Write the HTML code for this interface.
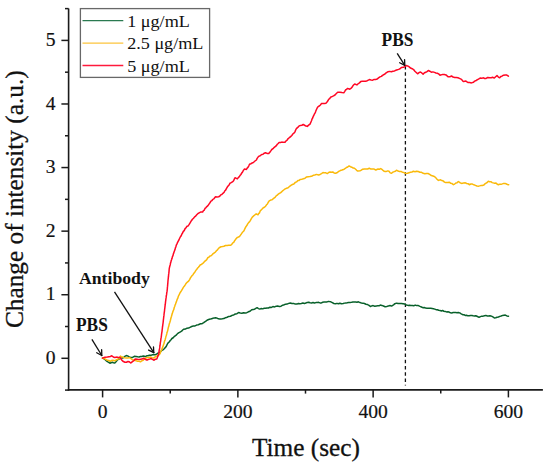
<!DOCTYPE html>
<html><head><meta charset="utf-8"><style>
html,body{margin:0;padding:0;background:#fff;}
body{width:550px;height:467px;overflow:hidden;}
svg{display:block;}
text{font-family:"Liberation Serif",serif;fill:#111;}
.tl{font-size:19.6px;stroke:#111;stroke-width:0.2px;}
.at{font-size:25.3px;stroke:#111;stroke-width:0.3px;}
.lg{font-size:17.8px;}
.an{font-size:17.4px;font-weight:bold;}
</style></head><body>
<svg width="550" height="467" viewBox="0 0 550 467">
<rect width="550" height="467" fill="#fff"/>
<line x1="68.6" y1="8.6" x2="68.6" y2="390.65" stroke="#1a1a1a" stroke-width="1.6"/>
<line x1="67.8" y1="389.9" x2="542.9" y2="389.9" stroke="#1a1a1a" stroke-width="1.6"/>
<line x1="61.4" y1="358.30" x2="68.6" y2="358.30" stroke="#1a1a1a" stroke-width="1.5"/>
<text x="55.6" y="363.90" text-anchor="end" class="tl">0</text>
<line x1="61.4" y1="294.72" x2="68.6" y2="294.72" stroke="#1a1a1a" stroke-width="1.5"/>
<text x="55.6" y="300.32" text-anchor="end" class="tl">1</text>
<line x1="61.4" y1="231.14" x2="68.6" y2="231.14" stroke="#1a1a1a" stroke-width="1.5"/>
<text x="55.6" y="236.74" text-anchor="end" class="tl">2</text>
<line x1="61.4" y1="167.56" x2="68.6" y2="167.56" stroke="#1a1a1a" stroke-width="1.5"/>
<text x="55.6" y="173.16" text-anchor="end" class="tl">3</text>
<line x1="61.4" y1="103.98" x2="68.6" y2="103.98" stroke="#1a1a1a" stroke-width="1.5"/>
<text x="55.6" y="109.58" text-anchor="end" class="tl">4</text>
<line x1="61.4" y1="40.40" x2="68.6" y2="40.40" stroke="#1a1a1a" stroke-width="1.5"/>
<text x="55.6" y="46.00" text-anchor="end" class="tl">5</text>
<line x1="65" y1="390.09" x2="68.6" y2="390.09" stroke="#1a1a1a" stroke-width="1.5"/>
<line x1="65" y1="326.51" x2="68.6" y2="326.51" stroke="#1a1a1a" stroke-width="1.5"/>
<line x1="65" y1="262.93" x2="68.6" y2="262.93" stroke="#1a1a1a" stroke-width="1.5"/>
<line x1="65" y1="199.35" x2="68.6" y2="199.35" stroke="#1a1a1a" stroke-width="1.5"/>
<line x1="65" y1="135.77" x2="68.6" y2="135.77" stroke="#1a1a1a" stroke-width="1.5"/>
<line x1="65" y1="72.19" x2="68.6" y2="72.19" stroke="#1a1a1a" stroke-width="1.5"/>
<line x1="65" y1="8.61" x2="68.6" y2="8.61" stroke="#1a1a1a" stroke-width="1.5"/>
<line x1="102.60" y1="389.9" x2="102.60" y2="397.4" stroke="#1a1a1a" stroke-width="1.5"/>
<text x="102.60" y="418.2" text-anchor="middle" class="tl">0</text>
<line x1="237.87" y1="389.9" x2="237.87" y2="397.4" stroke="#1a1a1a" stroke-width="1.5"/>
<text x="237.87" y="418.2" text-anchor="middle" class="tl">200</text>
<line x1="373.13" y1="389.9" x2="373.13" y2="397.4" stroke="#1a1a1a" stroke-width="1.5"/>
<text x="373.13" y="418.2" text-anchor="middle" class="tl">400</text>
<line x1="508.40" y1="389.9" x2="508.40" y2="397.4" stroke="#1a1a1a" stroke-width="1.5"/>
<text x="508.40" y="418.2" text-anchor="middle" class="tl">600</text>
<line x1="170.23" y1="389.9" x2="170.23" y2="393.6" stroke="#1a1a1a" stroke-width="1.5"/>
<line x1="305.50" y1="389.9" x2="305.50" y2="393.6" stroke="#1a1a1a" stroke-width="1.5"/>
<line x1="440.76" y1="389.9" x2="440.76" y2="393.6" stroke="#1a1a1a" stroke-width="1.5"/>
<text x="305.9" y="455.8" text-anchor="middle" class="at">Time (sec)</text>
<text transform="translate(23.3,199.2) rotate(-90)" x="0" y="0" text-anchor="middle" class="at">Change of intensity (a.u.)</text>
<line x1="405.4" y1="66" x2="405.4" y2="385.5" stroke="#111" stroke-width="1.3" stroke-dasharray="3.4 2.85"/>
<polyline points="102.50,358.10 103.70,358.56 104.90,359.50 106.15,360.64 107.40,361.70 108.65,362.33 109.90,363.20 112.30,362.20 113.55,362.69 114.80,363.00 116.00,361.76 117.20,360.30 118.45,359.16 119.70,358.80 121.05,357.96 122.40,358.00 123.73,357.50 125.07,356.18 126.40,355.60 127.60,355.86 128.80,356.60 130.80,357.60 132.55,357.40 134.30,356.30 136.00,356.52 137.70,356.80 139.07,356.93 140.45,356.43 141.82,356.40 143.20,356.10 145.40,356.60 146.67,355.85 147.93,355.85 149.20,355.30 150.85,355.33 152.50,354.70 153.85,354.72 155.20,354.70 156.55,354.12 157.90,353.10 159.20,352.60 160.50,351.80 161.75,350.41 163.00,349.80 164.00,349.03 165.00,347.88 166.00,346.80 166.83,345.19 167.67,343.51 168.50,342.50 169.35,341.83 170.20,340.48 171.05,339.70 171.90,338.50 173.20,337.74 174.50,336.30 175.50,335.59 176.50,334.88 177.50,333.60 179.00,332.61 180.50,331.80 181.60,331.20 182.70,330.02 183.80,329.20 185.40,329.09 187.00,328.20 188.50,328.09 190.00,327.30 191.67,326.47 193.33,326.04 195.00,325.90 196.65,325.05 198.30,324.70 200.50,323.80 202.10,323.67 203.70,322.70 204.80,321.81 205.90,321.15 207.00,320.20 208.65,319.47 210.30,319.10 211.65,318.71 213.00,318.30 214.35,317.90 215.70,317.70 217.05,318.12 218.40,318.80 219.70,318.88 221.00,318.88 222.30,318.80 223.90,318.61 225.50,317.70 227.15,317.21 228.80,316.40 230.45,316.24 232.10,315.30 233.70,314.97 235.30,314.00 236.95,313.69 238.60,312.50 240.25,313.05 241.90,313.30 243.55,312.80 245.20,312.90 246.80,312.67 248.40,311.80 250.05,311.22 251.70,309.80 253.30,309.40 254.57,309.20 255.83,308.33 257.10,307.70 258.45,308.59 259.80,309.10 261.27,308.57 262.73,308.87 264.20,308.30 265.63,308.27 267.07,307.91 268.50,308.00 269.97,307.14 271.43,307.39 272.90,306.60 274.55,306.89 276.20,306.30 277.80,306.08 279.40,306.60 281.05,306.17 282.70,305.20 284.17,304.75 285.63,304.15 287.10,304.10 288.70,303.36 290.30,303.00 291.95,303.44 293.60,303.40 295.25,304.09 296.90,304.10 298.37,303.46 299.83,303.74 301.30,303.40 302.90,302.99 304.50,303.40 305.85,303.10 307.20,302.40 308.65,302.28 310.10,302.81 311.55,302.93 313.00,302.54 314.45,303.02 315.90,302.60 317.27,302.50 318.65,302.37 320.02,302.91 321.40,302.90 322.70,302.22 324.00,302.11 325.30,302.04 326.60,301.96 327.90,301.60 329.37,301.62 330.83,301.85 332.30,302.60 333.90,303.48 335.50,303.70 336.97,303.37 338.43,303.78 339.90,303.20 341.55,303.71 343.20,303.50 344.55,303.12 345.90,302.91 347.25,302.69 348.60,302.40 350.07,302.40 351.53,302.22 353.00,302.00 354.35,302.00 355.70,302.01 357.05,302.25 358.40,301.80 360.00,302.60 361.47,302.91 362.93,303.14 364.40,303.50 366.00,304.25 367.60,304.60 369.00,305.31 370.40,306.50 371.75,305.87 373.10,305.60 374.75,306.18 376.40,305.90 377.75,305.79 379.10,305.69 380.45,305.09 381.80,305.40 383.45,306.02 385.10,306.80 386.75,306.42 388.40,305.90 390.00,305.57 391.60,306.10 392.70,305.40 393.80,304.62 394.90,303.70 396.55,303.15 398.20,303.40 399.80,303.56 401.40,303.50 403.05,303.77 404.70,304.10 406.35,304.91 408.00,305.40 409.43,305.27 410.87,305.59 412.30,305.40 413.77,305.68 415.23,305.10 416.70,305.60 418.35,305.60 420.00,306.40 421.40,306.98 422.80,307.67 424.20,307.45 425.60,308.10 426.90,308.14 428.20,308.34 429.50,308.18 430.80,308.30 432.10,308.50 433.42,308.69 434.74,309.10 436.06,309.67 437.38,309.76 438.70,310.30 440.00,310.41 441.30,310.99 442.60,310.53 443.90,311.24 445.20,311.40 446.52,311.91 447.84,311.83 449.16,312.05 450.48,312.87 451.80,312.90 453.10,312.58 454.40,312.46 455.70,312.60 457.00,312.76 458.30,312.50 459.77,312.87 461.23,313.81 462.70,314.70 464.00,314.75 465.30,315.40 466.60,315.24 467.90,315.82 469.20,315.70 470.52,315.40 471.84,315.55 473.16,315.84 474.48,316.05 475.80,315.70 477.45,316.46 479.10,317.30 480.45,316.65 481.80,316.16 483.15,316.13 484.50,315.70 485.88,315.42 487.25,315.98 488.62,316.00 490.00,315.70 491.43,316.15 492.87,316.97 494.30,317.90 495.68,317.80 497.05,317.28 498.43,317.05 499.80,316.40 501.18,315.94 502.55,315.42 503.93,315.24 505.30,315.10 506.90,315.91 508.50,316.20" fill="none" stroke="#08602a" stroke-width="1.5" stroke-linejoin="round" stroke-linecap="round"/>
<polyline points="102.50,358.10 103.72,358.41 104.95,358.84 106.18,359.66 107.40,360.30 108.85,360.49 110.30,361.30 111.55,360.41 112.80,360.30 114.80,360.80 116.25,359.96 117.70,359.30 119.70,358.30 120.50,356.10 121.70,356.98 122.90,357.10 124.65,357.87 126.40,358.10 127.85,358.09 129.30,357.60 130.80,358.45 132.30,359.80 134.70,360.30 136.20,360.83 137.70,361.30 139.10,361.35 140.50,361.80 141.85,360.71 143.20,360.20 144.55,358.75 145.90,358.00 147.37,357.38 148.83,357.65 150.30,356.90 151.90,357.75 153.50,358.00 154.60,357.48 155.70,356.40 157.90,355.80 159.00,354.97 160.10,353.60 160.60,352.06 161.10,350.90 161.60,349.80 162.10,348.59 162.60,347.36 163.10,346.14 163.60,344.50 164.00,343.53 164.40,341.50 164.80,340.65 165.20,339.40 165.60,337.93 166.00,336.32 166.40,335.30 166.74,333.94 167.07,332.26 167.41,331.68 167.75,330.28 168.09,328.66 168.43,327.10 168.76,326.31 169.10,324.60 169.50,323.27 169.90,322.14 170.30,320.71 170.70,319.01 171.10,317.52 171.50,316.29 171.90,314.80 172.37,313.35 172.83,311.73 173.30,310.47 173.77,309.55 174.23,307.47 174.70,306.50 175.14,304.87 175.57,304.16 176.01,302.63 176.45,301.63 176.89,300.35 177.32,299.01 177.76,298.37 178.20,296.70 178.80,295.25 179.40,294.27 180.00,292.91 180.60,292.00 181.50,290.67 182.40,289.10 183.22,287.62 184.05,286.42 184.88,285.50 185.70,284.00 186.67,282.74 187.65,281.85 188.62,281.06 189.60,279.60 190.46,277.96 191.32,276.65 192.18,275.52 193.04,274.72 193.90,273.20 194.80,272.14 195.70,270.63 196.60,269.55 197.50,268.24 198.40,267.33 199.30,266.20 200.36,264.83 201.42,264.46 202.48,263.68 203.54,262.77 204.60,261.40 205.68,260.54 206.75,259.66 207.82,257.74 208.90,257.10 209.98,256.05 211.06,255.80 212.14,254.77 213.22,253.58 214.30,252.80 215.36,252.14 216.42,250.79 217.48,249.91 218.54,248.37 219.60,247.50 221.03,246.79 222.47,246.58 223.90,246.20 225.50,245.47 227.10,245.40 228.75,245.24 230.40,245.30 231.57,244.65 232.73,243.01 233.90,242.10 234.78,240.48 235.65,239.34 236.53,238.28 237.40,237.40 238.60,237.06 239.80,236.20 240.68,234.90 241.55,233.66 242.43,232.31 243.30,231.50 244.00,230.75 244.70,229.07 245.40,227.70 246.10,226.38 246.80,225.60 247.70,223.87 248.60,222.65 249.50,221.78 250.40,220.30 251.37,218.62 252.33,217.15 253.30,216.20 254.75,214.99 256.20,213.80 258.00,214.80 258.73,213.45 259.45,213.00 260.17,211.09 260.90,210.30 262.10,209.03 263.30,207.70 264.45,207.20 265.60,206.20 266.50,204.79 267.40,203.99 268.30,202.20 269.20,200.90 270.65,200.07 272.10,199.70 273.60,198.42 275.10,197.30 276.18,195.88 277.25,195.23 278.32,194.07 279.40,193.30 280.47,192.83 281.55,191.95 282.62,190.82 283.70,190.00 285.17,188.85 286.63,188.31 288.10,187.80 289.18,186.74 290.25,185.89 291.32,185.08 292.40,184.50 293.87,183.93 295.33,182.38 296.80,181.80 297.90,180.60 299.00,180.59 300.10,179.40 301.75,179.16 303.40,178.80 305.00,178.29 306.60,176.90 308.25,176.66 309.90,176.60 311.55,176.31 313.20,175.30 314.80,174.99 316.40,174.40 318.60,175.00 320.07,174.43 321.53,173.55 323.00,172.50 324.43,172.86 325.87,172.87 327.30,173.60 328.65,172.49 330.00,171.90 331.35,172.24 332.70,171.90 334.10,172.96 335.50,173.30 337.10,172.73 338.70,171.40 340.35,170.55 342.00,170.00 344.20,169.20 345.30,168.49 346.40,167.50 347.75,166.97 349.10,165.90 350.45,166.68 351.80,167.20 353.15,168.03 354.50,168.30 355.60,169.26 356.70,170.31 357.80,171.10 360.00,170.80 361.35,170.17 362.70,169.20 364.35,168.89 366.00,169.00 367.65,169.03 369.30,168.30 370.90,169.06 372.50,169.00 374.15,169.12 375.80,170.00 378.00,169.00 379.35,169.22 380.70,168.60 382.30,169.70 383.70,171.07 385.10,171.60 386.40,171.40 387.70,170.90 388.97,171.29 390.23,172.86 391.50,173.30 392.90,172.11 394.30,171.60 395.40,171.32 396.50,170.20 398.10,171.05 399.70,171.60 401.05,171.50 402.40,172.20 404.05,172.55 405.70,173.50 407.35,173.22 409.00,172.70 410.47,172.30 411.93,171.99 413.40,171.30 415.00,171.68 416.60,171.30 418.25,171.50 419.90,172.20 421.55,172.30 423.20,173.30 424.80,173.78 426.40,173.50 428.05,173.51 429.70,174.40 431.35,175.54 433.00,176.00 434.35,176.45 435.70,177.60 437.05,179.28 438.40,180.40 440.60,179.80 441.90,180.60 443.20,180.90 444.45,182.09 445.70,182.60 447.60,182.45 449.50,182.20 450.80,183.37 452.10,183.60 453.40,184.70 454.65,184.05 455.90,182.95 457.15,182.65 458.40,181.50 460.00,182.70 461.60,183.40 463.50,183.07 465.40,182.80 466.70,183.46 468.00,183.64 469.30,184.70 470.85,183.98 472.40,184.10 473.90,184.82 475.40,185.36 476.90,186.00 478.80,186.13 480.70,185.60 482.30,185.45 483.90,185.10 485.00,183.82 486.10,183.08 487.20,182.49 488.30,181.30 489.60,181.75 490.90,181.73 492.20,182.60 494.10,183.15 496.00,183.10 497.25,184.19 498.50,184.70 499.80,184.13 501.10,184.30 502.35,183.89 503.60,183.40 504.90,183.49 506.20,183.80 507.45,184.51 508.70,184.70" fill="none" stroke="#fab90a" stroke-width="1.5" stroke-linejoin="round" stroke-linecap="round"/>
<polyline points="102.50,358.10 104.90,357.30 107.40,357.10 108.87,356.78 110.33,356.45 111.80,355.80 113.30,356.97 114.80,357.60 117.20,357.10 118.60,357.60 120.00,357.30 121.00,358.80 121.95,360.27 122.90,361.30 124.90,362.20 126.40,362.23 127.90,361.50 129.35,361.83 130.80,363.00 131.80,362.12 132.80,361.30 134.00,360.55 135.20,359.00 137.70,359.30 139.40,359.40 140.67,359.17 141.93,359.03 143.20,358.30 144.47,358.59 145.73,359.54 147.00,360.20 148.27,359.41 149.53,359.11 150.80,358.50 152.45,359.42 154.10,360.20 155.45,359.21 156.80,359.10 157.33,357.45 157.87,356.10 158.40,354.90 158.66,353.87 158.92,352.34 159.18,350.39 159.44,349.57 159.70,347.90 159.89,346.18 160.08,345.22 160.27,343.39 160.46,341.89 160.65,341.28 160.85,339.29 161.04,337.91 161.23,337.21 161.42,335.72 161.61,333.80 161.80,332.60 161.98,331.62 162.15,329.85 162.33,328.59 162.50,326.77 162.68,326.04 162.85,324.42 163.03,323.28 163.20,321.82 163.38,319.89 163.55,318.56 163.72,316.99 163.90,315.90 164.05,314.28 164.21,312.91 164.36,311.82 164.52,310.79 164.67,308.95 164.82,308.26 164.98,306.65 165.13,305.33 165.28,304.49 165.44,302.88 165.59,301.43 165.75,300.28 165.90,299.00 166.12,297.68 166.33,295.60 166.55,294.93 166.77,292.57 166.98,291.72 167.20,290.00 167.32,288.94 167.45,286.82 167.57,286.13 167.70,284.38 167.82,283.20 167.95,281.31 168.07,279.97 168.20,279.00 168.34,277.38 168.47,276.73 168.61,274.71 168.75,273.88 168.89,272.70 169.03,271.37 169.16,269.50 169.30,268.30 169.62,266.89 169.93,265.76 170.25,264.70 170.57,262.81 170.88,262.11 171.20,260.60 171.63,259.58 172.07,258.36 172.50,256.33 172.93,255.87 173.37,253.82 173.80,252.90 174.22,251.46 174.63,250.40 175.05,249.38 175.47,247.56 175.88,246.78 176.30,245.10 176.95,243.87 177.60,242.38 178.25,241.11 178.90,240.00 179.67,238.28 180.43,236.75 181.20,235.70 181.90,233.95 182.60,233.00 183.30,231.40 184.20,230.61 185.10,228.63 186.00,227.70 187.07,226.19 188.13,225.94 189.20,224.40 189.93,223.20 190.67,221.85 191.40,220.70 192.47,219.20 193.53,218.25 194.60,216.90 195.67,216.13 196.73,214.73 197.80,213.70 199.15,212.83 200.50,212.10 202.60,212.10 203.40,210.63 204.20,210.32 205.00,208.45 205.80,207.80 206.87,206.56 207.93,205.64 209.00,204.10 210.10,202.50 210.97,201.17 211.83,200.71 212.70,199.50 214.10,198.55 215.50,196.80 217.05,196.92 218.60,196.80 219.67,196.29 220.73,194.91 221.80,194.50 222.95,193.34 224.10,192.30 224.87,190.75 225.63,190.14 226.40,188.60 227.30,187.07 228.20,185.86 229.10,185.00 230.00,183.20 231.20,182.68 232.40,181.96 233.60,180.70 234.30,179.16 235.00,177.70 237.30,178.90 238.20,177.79 239.10,176.91 240.00,175.58 240.90,174.50 241.80,172.96 242.70,171.71 243.60,170.13 244.50,169.10 246.40,169.50 247.18,168.09 247.95,167.34 248.72,166.01 249.50,164.30 250.87,163.75 252.23,162.97 253.60,162.30 255.00,161.00 256.40,160.00 257.13,158.43 257.87,157.40 258.60,156.40 260.20,155.70 261.80,154.50 263.03,154.23 264.27,153.18 265.50,152.70 267.05,153.41 268.60,153.60 269.40,152.82 270.20,151.73 271.00,150.67 271.80,149.50 273.03,148.70 274.27,147.31 275.50,146.40 276.40,145.61 277.30,144.25 278.20,143.46 279.10,142.50 280.45,142.54 281.80,142.10 283.40,142.37 285.00,142.30 286.07,140.85 287.13,140.17 288.20,138.50 289.40,137.63 290.60,136.57 291.80,135.50 293.15,133.66 294.50,132.70 295.13,131.38 295.77,129.74 296.40,128.60 297.75,127.40 299.10,125.90 300.47,125.40 301.83,125.25 303.20,124.50 304.57,125.27 305.93,126.03 307.30,126.40 308.65,125.11 310.00,124.10 310.53,122.95 311.07,121.75 311.60,120.55 312.13,118.83 312.67,117.99 313.20,116.40 313.79,115.49 314.37,114.08 314.96,113.10 315.54,111.84 316.13,110.20 316.71,108.97 317.30,107.70 318.32,106.37 319.35,105.95 320.38,105.02 321.40,103.60 322.90,103.45 324.40,103.51 325.90,103.20 326.82,102.22 327.74,101.05 328.66,99.36 329.58,98.73 330.50,97.30 332.00,96.61 333.50,95.92 335.00,95.00 336.35,93.58 337.70,92.30 340.00,92.20 341.90,92.56 343.80,92.70 344.65,91.60 345.50,90.00 346.55,89.32 347.60,88.40 349.80,89.20 350.90,88.45 352.00,87.30 352.90,85.77 353.80,84.79 354.70,84.00 356.90,84.90 358.17,83.75 359.43,82.84 360.70,81.60 362.35,81.20 364.00,81.30 365.65,81.17 367.30,80.70 369.40,79.60 371.05,80.02 372.70,80.20 374.17,79.42 375.63,79.44 377.10,79.10 378.53,77.95 379.97,76.90 381.40,76.40 382.50,75.34 383.60,74.77 384.70,74.20 385.80,73.11 386.90,72.32 388.00,71.80 389.65,71.38 391.30,71.80 392.90,71.32 394.50,70.90 395.90,70.24 397.30,69.80 398.65,69.35 400.00,68.70 401.30,67.60 403.50,67.30 404.85,66.53 406.20,65.60 407.55,65.91 408.90,66.70 410.55,68.06 412.20,68.70 413.55,69.55 414.90,71.30 416.25,72.46 417.60,73.80 419.00,72.70 420.40,72.00 421.75,72.97 423.10,74.10 424.45,72.80 425.80,72.20 427.05,71.65 428.30,70.50 429.80,71.24 431.30,72.20 432.90,71.88 434.50,72.40 435.90,72.95 437.30,73.30 438.65,73.89 440.00,75.20 441.35,74.84 442.70,74.40 444.35,74.51 446.00,74.90 447.10,75.92 448.20,76.80 449.80,76.81 451.40,76.00 453.05,76.99 454.70,77.40 456.35,77.53 458.00,77.80 459.40,78.40 461.50,79.40 462.60,80.78 463.70,81.60 465.90,81.10 467.00,81.93 468.10,82.50 469.75,82.58 471.40,82.90 473.50,82.20 474.60,81.14 475.70,80.82 476.80,80.00 478.45,79.11 480.10,78.10 481.75,78.36 483.40,77.80 484.75,78.52 486.10,78.40 487.70,77.50 489.90,77.80 491.25,77.65 492.60,77.30 494.30,78.10 495.65,76.72 497.00,75.60 498.35,77.05 499.70,77.80 500.80,76.55 501.90,76.20 503.55,75.20 505.20,74.90 506.80,75.10 508.40,76.20" fill="none" stroke="#ff0724" stroke-width="1.5" stroke-linejoin="round" stroke-linecap="round"/>
<rect x="80.4" y="8.6" width="129.2" height="68.8" fill="none" stroke="#686868" stroke-width="1.3"/>
<line x1="82.5" y1="20.7" x2="123.3" y2="20.7" stroke="#2a7a50" stroke-width="1.3"/>
<text transform="translate(127.2,26.80) scale(1.02,0.94)" class="lg">1 μg/mL</text>
<line x1="82.5" y1="43.099999999999994" x2="123.3" y2="43.099999999999994" stroke="#fcc43c" stroke-width="1.3"/>
<text transform="translate(127.2,49.20) scale(1.02,0.94)" class="lg">2.5 μg/mL</text>
<line x1="82.5" y1="65.5" x2="123.3" y2="65.5" stroke="#ff1a3c" stroke-width="1.3"/>
<text transform="translate(127.2,71.60) scale(1.02,0.94)" class="lg">5 μg/mL</text>
<text transform="translate(76.0,331.3) scale(0.93,1)" class="an" style="font-size:18.7px">PBS</text>
<line x1="91.9" y1="339.4" x2="101.8" y2="355.5" stroke="#111" stroke-width="1.3"/><line x1="101.8" y1="355.5" x2="96.70" y2="352.74" stroke="#111" stroke-width="1.3" stroke-linecap="round"/><line x1="101.8" y1="355.5" x2="101.64" y2="349.70" stroke="#111" stroke-width="1.3" stroke-linecap="round"/>
<text x="79.0" y="284.0" class="an" style="font-size:17.7px">Antibody</text>
<line x1="114.5" y1="291.8" x2="153.8" y2="352.7" stroke="#111" stroke-width="1.3"/><line x1="153.8" y1="352.7" x2="148.64" y2="350.05" stroke="#111" stroke-width="1.3" stroke-linecap="round"/><line x1="153.8" y1="352.7" x2="153.51" y2="346.91" stroke="#111" stroke-width="1.3" stroke-linecap="round"/>
<text transform="translate(381.6,45.6) scale(0.93,1)" class="an" style="font-size:18.7px">PBS</text>
<line x1="397.2" y1="53.4" x2="404.8" y2="65.4" stroke="#111" stroke-width="1.3"/><line x1="404.8" y1="65.4" x2="399.66" y2="62.71" stroke="#111" stroke-width="1.3" stroke-linecap="round"/><line x1="404.8" y1="65.4" x2="404.56" y2="59.60" stroke="#111" stroke-width="1.3" stroke-linecap="round"/>
</svg>
</body></html>
